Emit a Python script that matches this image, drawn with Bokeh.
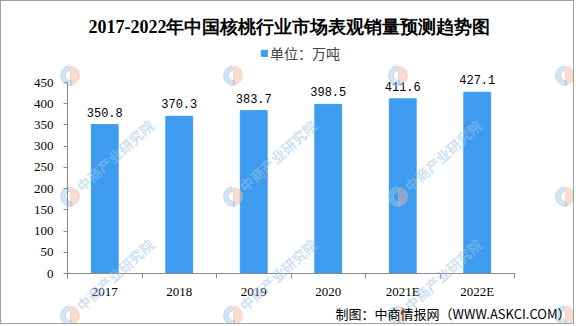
import math
from bokeh.plotting import figure
from bokeh.models import (Range1d, FixedTicker, Label, Legend, LegendItem,
                          ColumnDataSource, LinearAxis)
from bokeh.core.properties import value
from bokeh.embed import file_html
from bokeh.resources import INLINE

# Chart data
years = ["2017", "2018", "2019", "2020", "2021E", "2022E"]
sales = [350.8, 370.3, 383.7, 398.5, 411.6, 427.1]
y_ticks = [0, 50, 100, 150, 200, 250, 300, 350, 400, 450]

title_text = "2017-2022年中国核桃行业市场表观销量预测趋势图"
unit_text = "单位：万吨"
source_text = "制图：中商情报网（WWW.ASKCI.COM）"
mark_text = "中商产业研究院"

BAR = "#3D9CF0"
AXIS = "#8C8C8C"
MARK_BLUE = "#9CC3E8"
MARK_ORANGE = "#F4B49A"

# Canvas geometry (pixels). The frame fills the whole canvas and the axes
# are pinned at zero, so annotations can sit anywhere on the page.
W, H = 574, 324
LEFT, RIGHT = 66, 513           # x pixels of category 0 and category 6
BASE, TOP = 272, 81             # y pixels (from top) of value 0 and 450
px_x = (RIGHT - LEFT) / len(years)
px_y = (BASE - TOP) / 450.0

x_range = Range1d(-LEFT / px_x, (W - LEFT) / px_x)
y_range = Range1d(-(H - BASE) / px_y, BASE / px_y)

centers = [i + 0.5 for i in range(len(years))]
bounds = list(range(len(years) + 1))
src = ColumnDataSource(dict(x=centers, y=sales,
                            lab=["%.1f" % v for v in sales]))

p = figure(width=W, height=H, x_range=x_range, y_range=y_range,
           output_backend="svg", toolbar_location=None,
           x_axis_location=None, y_axis_location=None, min_border=0)
p.styles = {"border": "1px solid #A0A0A0"}
p.outline_line_color = None
p.xgrid.visible = False
p.ygrid.visible = False

bars = p.vbar(x="x", top="y", width=0.36, source=src, color=BAR)
p.text(x="x", y="y", text="lab", source=src, text_align="center",
       text_baseline="bottom", y_offset=-8,
       text_font=value("Liberation Mono"), text_font_size="12px",
       text_color="black")

# y axis, drawn only over 0..450
ya = LinearAxis(fixed_location=0, bounds=(0, 450),
                ticker=FixedTicker(ticks=y_ticks))
ya.axis_line_color = AXIS
ya.major_tick_line_color = AXIS
ya.major_tick_in = 0
ya.major_tick_out = 4
ya.minor_tick_line_color = None
ya.major_label_standoff = 10
ya.major_label_text_font = "Liberation Serif"
ya.major_label_text_font_size = "13px"
ya.major_label_text_color = "black"
p.add_layout(ya, "left")

# x axis: labels at bar centres, tick marks between categories
xa = LinearAxis(fixed_location=0, bounds=(0, len(years)),
                ticker=FixedTicker(ticks=centers, minor_ticks=bounds))
xa.major_label_overrides = {c: y for c, y in zip(centers, years)}
xa.axis_line_color = AXIS
xa.major_tick_line_color = None
xa.minor_tick_line_color = AXIS
xa.minor_tick_in = 0
xa.minor_tick_out = 5
xa.major_label_standoff = 4
xa.major_label_text_font = "Liberation Serif"
xa.major_label_text_font_size = "13px"
xa.major_label_text_color = "black"
p.add_layout(xa, "below")


def sx(px):
    """page pixel x -> screen x of the frame"""
    return px - 1


def sy(py):
    """page pixel y (from top) -> screen y of the frame (from bottom)"""
    return H + 1 - py


def dx(px):
    return (px - 1 - LEFT) / px_x


def dy(py):
    return (BASE + 1 - py) / px_y


# faint watermark logos on a diagonal grid; the slanted name is written
# wherever it fits on the page
mark_cols = [-93, 70, 233, 398, 565]
mark_rows = [75, 196, 315]
logo_x, logo_y = [], []
for row in mark_rows:
    for col in mark_cols:
        logo_x.append(dx(col))
        logo_y.append(dy(row))
        if 0 < col < 480 and row > 150:
            p.add_layout(Label(x=sx(col + 8), y=sy(row - 8), x_units="screen",
                               y_units="screen", text=mark_text,
                               angle=math.radians(42), text_align="left",
                               text_baseline="middle",
                               text_font="Noto Sans CJK SC",
                               text_font_style="bold", text_font_size="14px",
                               text_color=MARK_BLUE, text_alpha=0.5))
p.wedge(x=logo_x, y=logo_y, radius=9, radius_units="screen",
        start_angle=-math.pi / 2, end_angle=math.pi / 2,
        color=MARK_ORANGE, alpha=0.45)
p.annular_wedge(x=logo_x, y=logo_y, inner_radius=5, outer_radius=10,
                inner_radius_units="screen", outer_radius_units="screen",
                start_angle=math.radians(100), end_angle=math.radians(280),
                color=MARK_BLUE, alpha=0.45)

# unit legend just under the title
legend = Legend(items=[LegendItem(label=unit_text, renderers=[bars])],
                location=(sx(260), sy(63)), orientation="horizontal",
                glyph_width=8, glyph_height=8, padding=0, margin=0,
                label_text_font_size="14px", label_standoff=2,
                label_text_font="Noto Sans CJK SC",
                border_line_color=None, background_fill_alpha=0)
p.add_layout(legend, "center")

p.add_layout(Label(x=sx(289), y=sy(26), x_units="screen", y_units="screen",
                   text=title_text, text_align="center",
                   text_baseline="middle", text_font="Liberation Serif",
                   text_font_size="18px", text_font_style="bold",
                   text_color="black"))

p.add_layout(Label(x=sx(570), y=sy(313), x_units="screen", y_units="screen",
                   text=source_text, text_align="right",
                   text_baseline="middle", text_font="Noto Sans CJK SC",
                   text_font_size="13px", text_color="black"))

open("out.html", "w").write(file_html(p, INLINE))
